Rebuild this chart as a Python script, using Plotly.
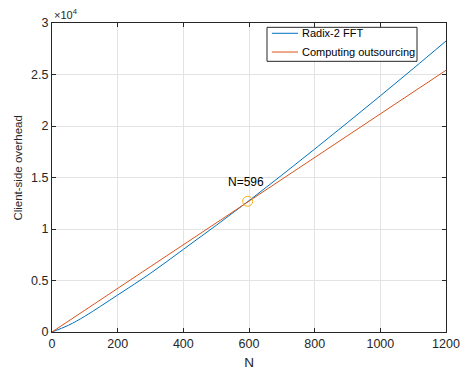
import plotly.graph_objects as go

N = [0, 50, 100, 200, 300, 400, 500, 600, 700, 800, 900, 1000, 1100, 1200]
fft = [0, 650, 1530, 3590, 5700, 8020, 10350, 12750, 15230, 17760, 20330, 22930, 25570, 28250]
outsourcing = [0, 1060, 2120, 4240, 6350, 8470, 10590, 12700, 14820, 16940, 19060, 21170, 23290, 25410]
series_names = ["Radix-2 FFT", "Computing outsourcing"]
series_colors = ["#0072BD", "#D95319"]
cross_N = [596]
cross_val = [12690]
ytick_vals = [0, 5000, 10000, 15000, 20000, 25000, 30000]
ytick_text = ["0", "0.5", "1", "1.5", "2", "2.5", "3"]
xtick_vals = [0, 200, 400, 600, 800, 1000, 1200]
y_title = "Client-side overhead"
x_title = "N"

font = "Liberation Sans, Arial, sans-serif"
axcol = "#262626"

fig = go.Figure()
fig.add_trace(go.Scatter(x=N, y=fft, mode="lines", name=series_names[0], showlegend=False,
                         line=dict(color=series_colors[0], width=1, shape="spline")))
fig.add_trace(go.Scatter(x=N, y=outsourcing, mode="lines", name=series_names[1], showlegend=False,
                         line=dict(color=series_colors[1], width=1)))
fig.add_trace(go.Scatter(x=cross_N, y=cross_val, mode="markers", showlegend=False,
                         marker=dict(symbol="circle-open", size=10, color="#EDB120",
                                     line=dict(width=1, color="#EDB120"))))
fig.add_annotation(x=cross_N[0], y=cross_val[0], text="N=%d" % cross_N[0], showarrow=False,
                   yshift=19, xshift=-2, font=dict(family=font, size=12, color="#000000"))
fig.add_annotation(x=0, y=1, xref="paper", yref="paper", text="×10<sup>4</sup>",
                   showarrow=False, xanchor="left", yanchor="bottom",
                   font=dict(family=font, size=11, color=axcol))
# y-axis title (MATLAB placement)
fig.add_annotation(x=-0.0863, y=0.532, xref="paper", yref="paper", text=y_title,
                   textangle=-90, showarrow=False, xanchor="center", yanchor="middle",
                   font=dict(family=font, size=11.5, color=axcol))

# legend drawn manually (MATLAB-style compact box)
fig.add_shape(type="rect", xref="paper", yref="paper", x0=0.5457, x1=0.9264, y0=0.876, y1=0.986,
              line=dict(color=axcol, width=1), fillcolor="white", layer="above")
for ly, nm, col in zip([0.9667, 0.906], series_names, series_colors):
    fig.add_shape(type="line", xref="paper", yref="paper", x0=0.558, x1=0.6244, y0=ly, y1=ly,
                  line=dict(color=col, width=1), layer="above")
    fig.add_annotation(x=0.6294, y=ly, xref="paper", yref="paper", text=nm, showarrow=False,
                       xanchor="left", yanchor="middle",
                       font=dict(family=font, size=11, color="#000000"))

axis_common = dict(showline=True, linecolor=axcol, linewidth=1, mirror="allticks",
                   ticks="inside", ticklen=4, tickcolor=axcol, showgrid=True,
                   gridcolor="#e3e3e3", gridwidth=1, zeroline=False,
                   tickfont=dict(family=font, size=12.5, color=axcol))

fig.update_xaxes(range=[0, 1200], tickvals=xtick_vals, title=dict(text=x_title, standoff=7,
                 font=dict(family=font, size=13.5, color=axcol)), **axis_common)
fig.update_yaxes(range=[0, 30000], tickvals=ytick_vals, ticktext=ytick_text, **axis_common)

fig.update_layout(
    width=474, height=377,
    margin=dict(l=52, r=28, t=23, b=45, autoexpand=False),
    paper_bgcolor="white", plot_bgcolor="white",
    font=dict(family=font, size=12, color=axcol),
    showlegend=False,
)

fig.write_html("out.html", config={"displayModeBar": False},
               post_script="document.body.style.margin='0';document.body.style.overflow='hidden';")
